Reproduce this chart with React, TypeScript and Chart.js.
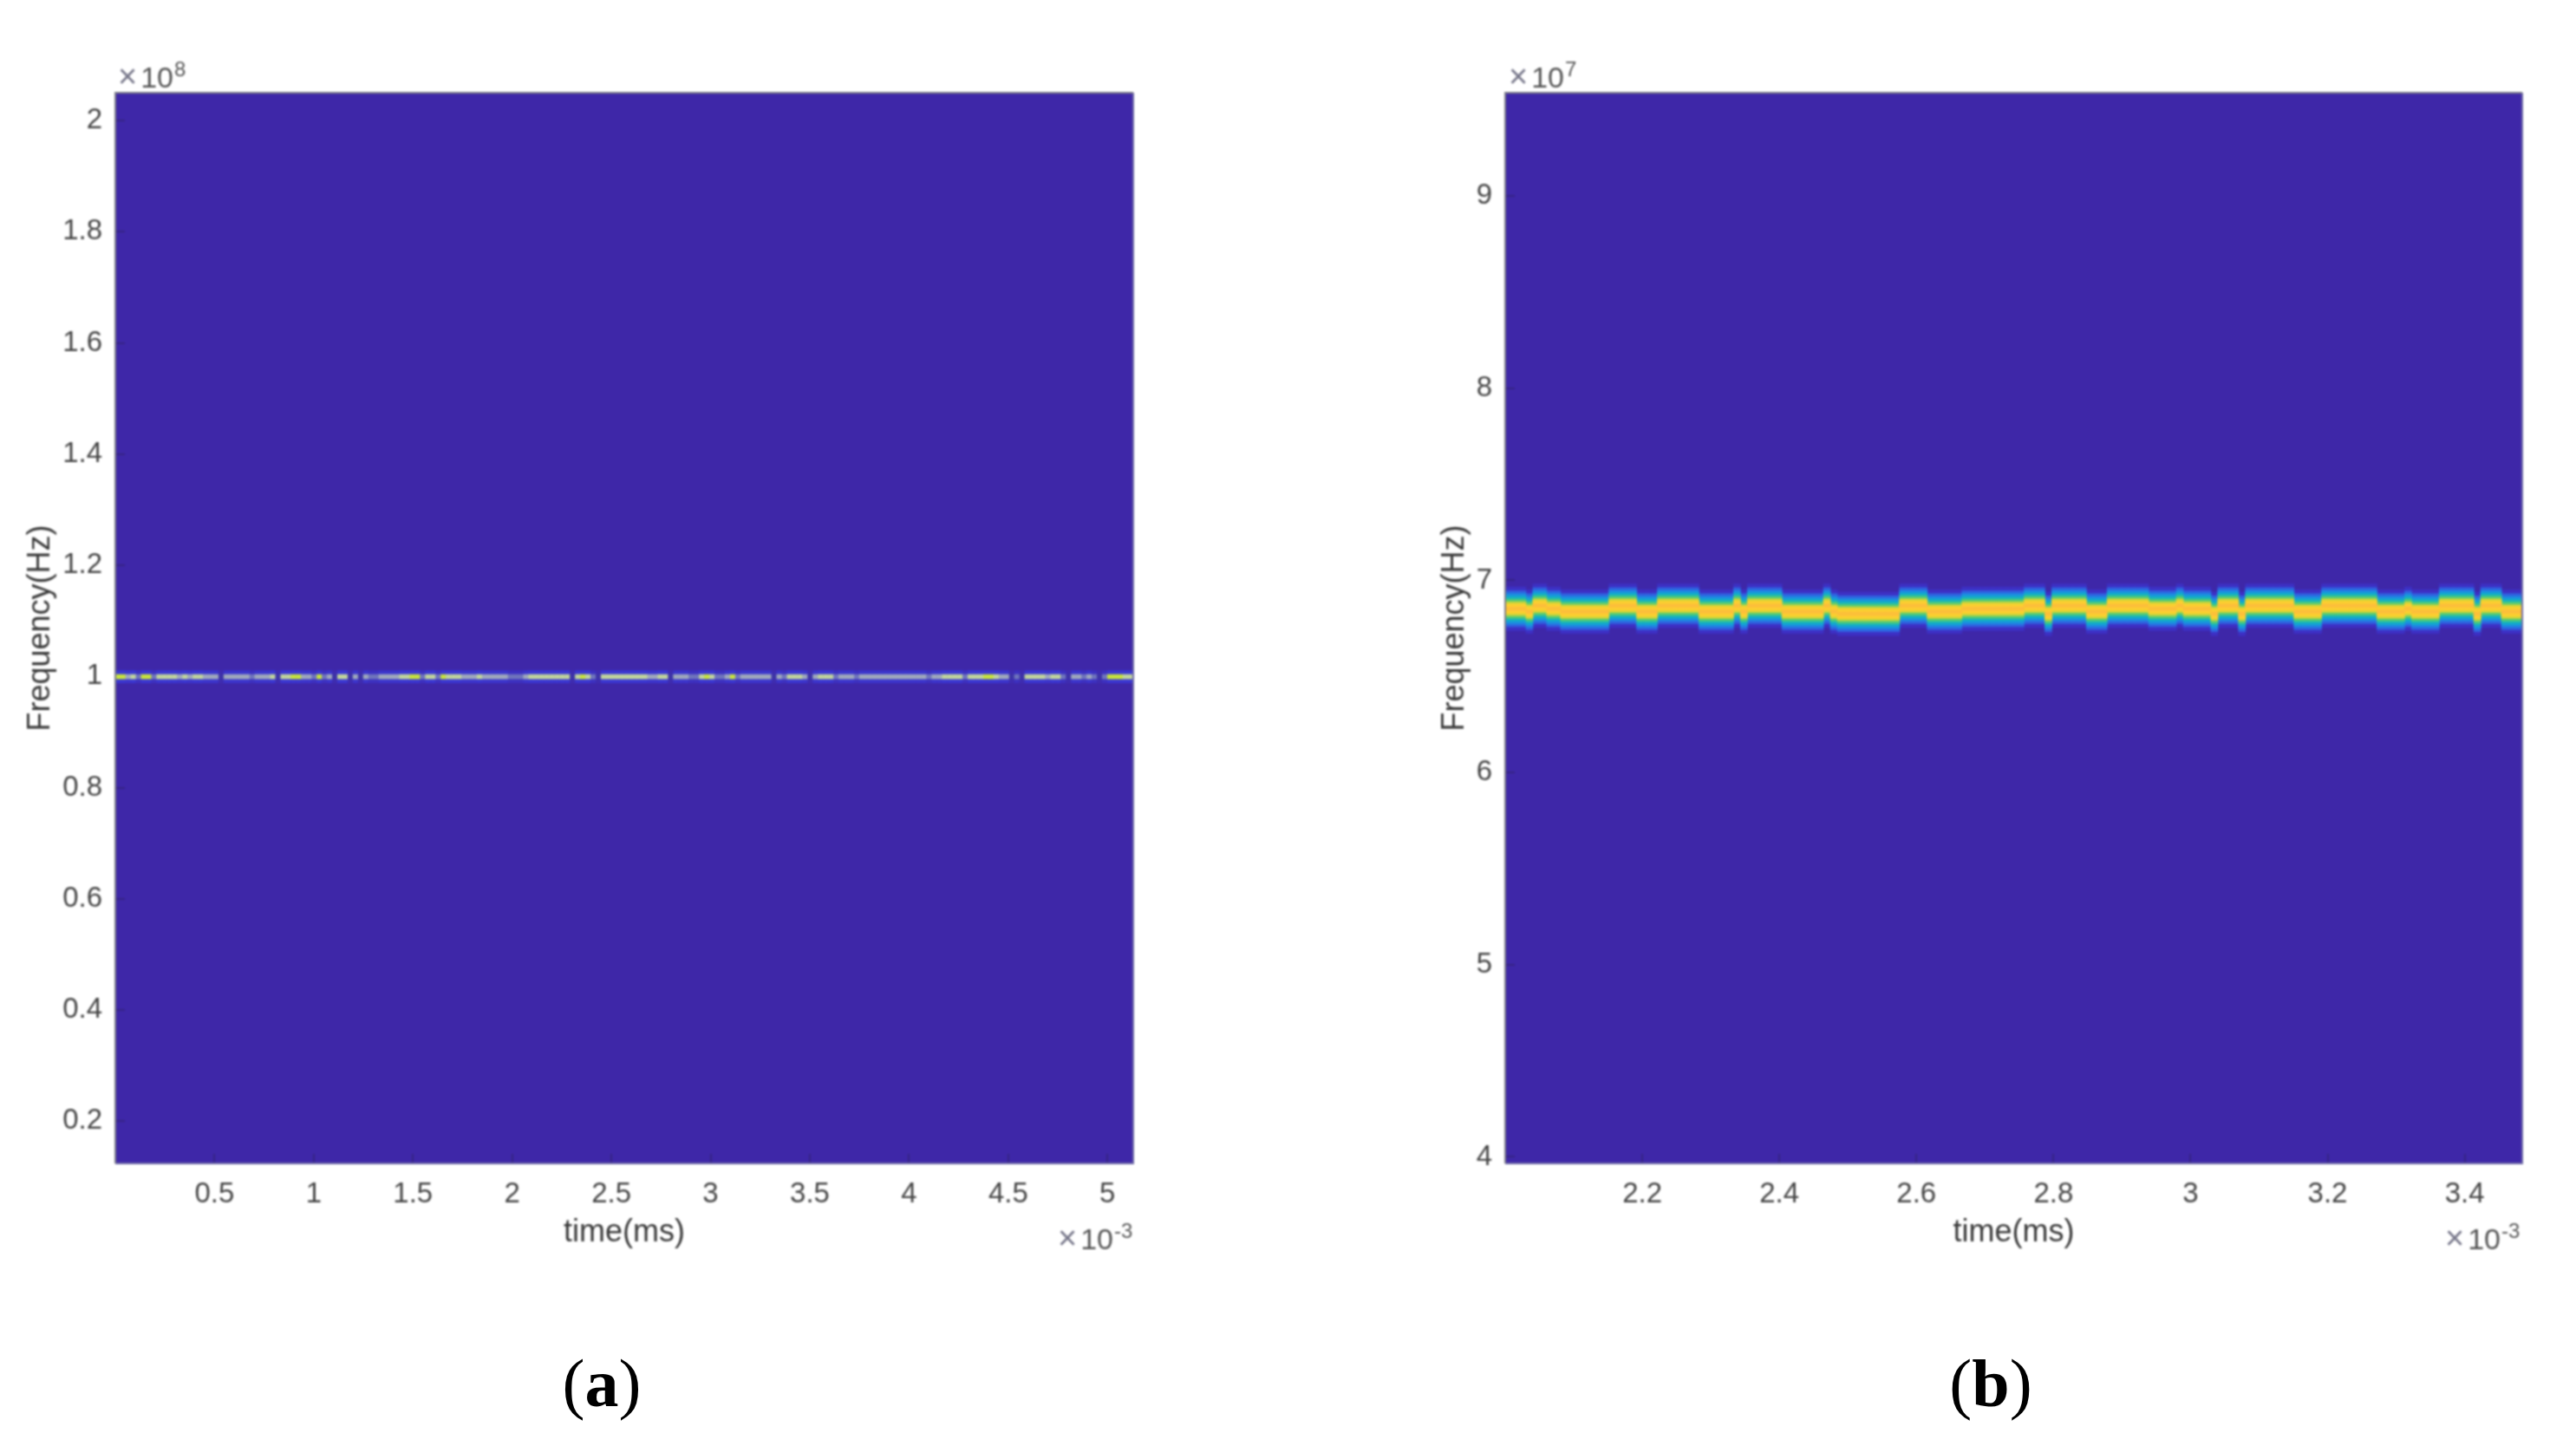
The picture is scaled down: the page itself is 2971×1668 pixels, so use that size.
import { useEffect, useRef } from "react"
import { Chart, registerables } from "chart.js"

Chart.register(...registerables)

const BACKGROUND = "#3e27a8"
const FONT = "'Liberation Sans', Arial, sans-serif"

// panel (a): one thin row near 1e8 Hz, strength per time bin
const yTicksA = [0.2, 0.4, 0.6, 0.8, 1, 1.2, 1.4, 1.6, 1.8, 2]
const xTicksA = [0.5, 1, 1.5, 2, 2.5, 3, 3.5, 4, 4.5, 5]
const xRangeA = [0, 5.13]
const yRangeA = [0.124, 2.05]
const rowA = [0.995, 1.004]
const haloRowA = [0.988, 1.011]
const levelsA = [
  4, 4, 2, 3, 1, 4, 4, 1, 3, 3, 3, 3, 2, 3, 2, 3, 3, 2, 2, 2,
  0, 2, 2, 2, 2, 2, 1, 2, 2, 2, 3, 0, 3, 3, 4, 4, 2, 2, 1, 4,
  1, 2, 0, 3, 3, 0, 2, 0, 2, 1, 1, 2, 2, 2, 2, 3, 3, 4, 4, 1,
  3, 3, 1, 4, 3, 3, 3, 2, 2, 2, 3, 2, 2, 2, 2, 2, 1, 1, 1, 2,
  3, 3, 3, 3, 3, 3, 3, 3, 0, 3, 4, 3, 1, 0, 3, 3, 3, 3, 3, 3,
  3, 3, 3, 2, 2, 3, 3, 0, 2, 2, 2, 1, 1, 3, 4, 3, 1, 1, 2, 4,
  1, 2, 2, 2, 2, 2, 2, 0, 2, 1, 3, 3, 3, 2, 0, 2, 3, 3, 3, 1,
  2, 2, 2, 1, 2, 2, 2, 2, 2, 2, 2, 2, 2, 2, 2, 2, 2, 1, 2, 2,
  3, 3, 3, 3, 1, 3, 3, 3, 4, 4, 3, 2, 2, 0, 1, 0, 3, 3, 3, 3,
  2, 3, 3, 1, 0, 2, 2, 1, 2, 1, 0, 1, 4, 4, 4, 3, 3,
]
const levelColors = ["#3d34a6", "#6f74bc", "#9ea8bc", "#c0d49c", "#c6e23e"]
const haloColors = ["#3e2cb0", "#3c30c0", "#3b34cc", "#3a36d2", "#3a36d2"]

// panel (b): ridge centre per time bin, and the colour bands around it
const yTicksB = [4, 5, 6, 7, 8, 9]
const xTicksB = [2.2, 2.4, 2.6, 2.8, 3, 3.2, 3.4]
const xRangeB = [2.0, 3.484]
const yRangeB = [3.966, 9.537]
const ridgeB = [
  6.852, 6.852, 6.852, 6.837, 6.868, 6.868, 6.852, 6.852, 6.837, 6.837, 6.837, 6.837, 6.837, 6.837, 6.837,
  6.868, 6.868, 6.868, 6.868, 6.837, 6.837, 6.837, 6.868, 6.868, 6.868, 6.868, 6.868, 6.868, 6.837, 6.837,
  6.837, 6.837, 6.837, 6.868, 6.837, 6.868, 6.868, 6.868, 6.868, 6.868, 6.837, 6.837, 6.837, 6.837, 6.837,
  6.837, 6.868, 6.837, 6.826, 6.826, 6.826, 6.826, 6.826, 6.826, 6.826, 6.826, 6.826, 6.868, 6.868, 6.868,
  6.868, 6.837, 6.837, 6.837, 6.837, 6.837, 6.852, 6.852, 6.852, 6.852, 6.852, 6.852, 6.852, 6.852, 6.852,
  6.868, 6.868, 6.868, 6.826, 6.868, 6.868, 6.868, 6.868, 6.868, 6.837, 6.837, 6.837, 6.868, 6.868, 6.868,
  6.868, 6.868, 6.868, 6.852, 6.852, 6.852, 6.852, 6.868, 6.852, 6.852, 6.852, 6.852, 6.826, 6.868, 6.868,
  6.868, 6.826, 6.868, 6.868, 6.868, 6.868, 6.868, 6.868, 6.868, 6.837, 6.837, 6.837, 6.837, 6.868, 6.868,
  6.868, 6.868, 6.868, 6.868, 6.868, 6.868, 6.837, 6.837, 6.837, 6.837, 6.852, 6.837, 6.837, 6.837, 6.837,
  6.868, 6.868, 6.868, 6.868, 6.868, 6.826, 6.868, 6.868, 6.868, 6.837, 6.837, 6.837,
]
const bandHalfWidths = [0.115, 0.095, 0.08, 0.066, 0.052, 0.038, 0.027, 0.011]
const bandColors = ["#3d30c4", "#2f63e0", "#1b8fe0", "#12b0c4", "#4dc97a", "#c4d43c", "#fbd02f", "#fcbf3a"]

const binCentre = (range: number[], i: number, count: number) =>
  range[0] + ((i + 0.5) * (range[1] - range[0])) / count

const barDefaults = {
  grouped: false,
  barPercentage: 1.08,
  categoryPercentage: 1,
  borderWidth: 0,
}

// chart.js paints the first dataset last, so the narrowest band comes first
const datasetsA = [
  {
    ...barDefaults,
    data: levelsA.map((_, i) => ({ x: binCentre(xRangeA, i, levelsA.length), y: rowA })),
    backgroundColor: levelsA.map((l) => levelColors[l]),
  },
  {
    ...barDefaults,
    data: levelsA.map((_, i) => ({ x: binCentre(xRangeA, i, levelsA.length), y: haloRowA })),
    backgroundColor: levelsA.map((l) => haloColors[l]),
  },
]

const datasetsB = bandHalfWidths
  .map((w, b) => ({
    ...barDefaults,
    data: ridgeB.map((c, i) => ({ x: binCentre(xRangeB, i, ridgeB.length), y: [c - w, c + w] })),
    backgroundColor: bandColors[b],
  }))
  .reverse()

const plotFrame = {
  id: "plotFrame",
  beforeDraw(chart: Chart) {
    const { ctx, chartArea: a } = chart
    ctx.save()
    ctx.fillStyle = BACKGROUND
    ctx.fillRect(a.left, a.top, a.width, a.height)
    ctx.restore()
  },
  afterDraw(chart: Chart) {
    const { ctx, chartArea: a } = chart
    ctx.save()
    ctx.lineWidth = 2
    ctx.strokeStyle = "#6d68a6"
    ctx.beginPath()
    ctx.moveTo(a.right, a.top)
    ctx.lineTo(a.right, a.bottom)
    ctx.lineTo(a.left, a.bottom)
    ctx.stroke()
    ctx.strokeStyle = "#7c7c88"
    ctx.beginPath()
    ctx.moveTo(a.left, a.bottom)
    ctx.lineTo(a.left, a.top)
    ctx.lineTo(a.right, a.top)
    ctx.stroke()
    ctx.restore()
  },
}

interface PanelProps {
  left: number
  width: number
  datasets: any[]
  xRange: number[]
  yRange: number[]
  xTicks: number[]
  yTicks: number[]
  padding: { left: number; right: number }
  yAxisWidth: number
}

function Panel({ left, width, datasets, xRange, yRange, xTicks, yTicks, padding, yAxisWidth }: PanelProps) {
  const ref = useRef<HTMLCanvasElement>(null)

  useEffect(() => {
    if (!ref.current) return
    const tickStyle = {
      color: "#454545",
      font: { family: FONT, size: 33 },
      autoSkip: false,
      maxRotation: 0,
      callback: (v: number | string) => String(v),
    }
    const gridStyle = {
      drawOnChartArea: false,
      drawTicks: true,
      tickLength: -11,
      lineWidth: 2,
      color: "rgba(40,30,70,0.35)",
      offset: false,
    }
    const chart = new Chart(ref.current, {
      type: "bar",
      data: { datasets },
      plugins: [plotFrame],
      options: {
        responsive: false,
        animation: false,
        events: [],
        layout: { padding: { top: 107, bottom: 216, left: padding.left, right: padding.right } },
        plugins: { legend: { display: false }, tooltip: { enabled: false } },
        scales: {
          x: {
            type: "linear",
            offset: false,
            min: xRange[0],
            max: xRange[1],
            grid: gridStyle,
            border: { display: false },
            ticks: { ...tickStyle, padding: 27 },
            title: {
              display: true,
              text: "time(ms)",
              color: "#3a3a3a",
              font: { family: FONT, size: 36 },
              padding: { top: 0, bottom: 8 },
            },
            afterBuildTicks: (s: any) => {
              s.ticks = xTicks.map((value) => ({ value }))
            },
            afterFit: (s: any) => {
              s.height = 110
            },
          },
          y: {
            type: "linear",
            min: yRange[0],
            max: yRange[1],
            grid: gridStyle,
            border: { display: false },
            ticks: { ...tickStyle, padding: 26 },
            title: {
              display: true,
              text: "Frequency(Hz)",
              color: "#3a3a3a",
              font: { family: FONT, size: 36 },
              padding: { top: 25, bottom: 0 },
            },
            afterBuildTicks: (s: any) => {
              s.ticks = yTicks.map((value) => ({ value }))
            },
            afterFit: (s: any) => {
              s.width = yAxisWidth
            },
          },
        },
      } as any,
    })
    return () => chart.destroy()
  }, [])

  return (
    <canvas
      ref={ref}
      width={width}
      height={1668}
      style={{ position: "absolute", left, top: 0, width, height: 1668, filter: "blur(1.2px)" }}
    />
  )
}

function Exponent({ left, top, power }: { left: number; top: number; power: string }) {
  return (
    <div
      style={{
        position: "absolute",
        left,
        top,
        font: `34px/32px ${FONT}`,
        color: "#555",
        whiteSpace: "nowrap",
        filter: "blur(0.8px)",
      }}
    >
      <span style={{ color: "#77778a", marginRight: 4, fontSize: 38 }}>×</span>10
      <span style={{ position: "relative", top: -13, fontSize: 24, marginLeft: 1 }}>{power}</span>
    </div>
  )
}

function Caption({ left, text }: { left: number; text: string }) {
  return (
    <div
      style={{
        position: "absolute",
        left,
        top: 1558,
        width: 120,
        textAlign: "center",
        font: "78px/76px 'Liberation Serif', serif",
        color: "#000",
      }}
    >
      (<b>{text}</b>)
    </div>
  )
}

export default function App() {
  return (
    <div style={{ position: "absolute", left: 0, top: 0, width: 2971, height: 1668, background: "#fff", overflow: "hidden" }}>
      <Panel
        left={0}
        width={1480}
        datasets={datasetsA}
        xRange={xRangeA}
        yRange={yRangeA}
        xTicks={xTicksA}
        yTicks={yTicksA}
        padding={{ left: 0, right: 173 }}
        yAxisWidth={133}
      />
      <Panel
        left={1490}
        width={1481}
        datasets={datasetsB}
        xRange={xRangeB}
        yRange={yRangeB}
        xTicks={xTicksB}
        yTicks={yTicksB}
        padding={{ left: 141, right: 62 }}
        yAxisWidth={105}
      />
      <Exponent left={136} top={72} power="8" />
      <Exponent left={1740} top={72} power="7" />
      <Exponent left={1220} top={1412} power="-3" />
      <Exponent left={2820} top={1412} power="-3" />
      <Caption left={634} text="a" />
      <Caption left={2236} text="b" />
    </div>
  )
}
